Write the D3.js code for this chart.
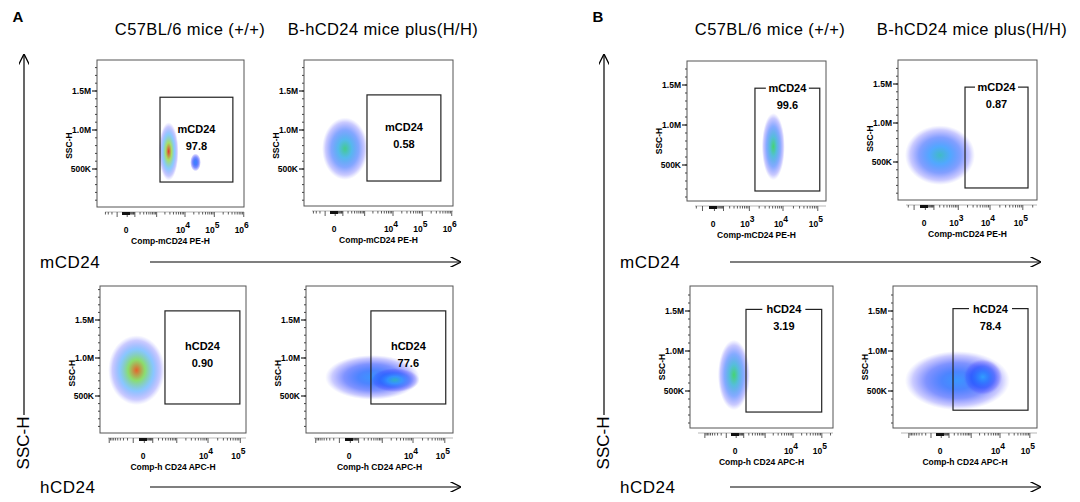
<!DOCTYPE html>
<html><head><meta charset="utf-8">
<script src="https://cdn.jsdelivr.net/npm/d3@7/dist/d3.min.js"></script>
<style>body{margin:0;background:#fff}text{font-family:Arial,"Liberation Sans",sans-serif}</style>
</head><body><svg id="c" width="1080" height="502"></svg>
<script>
// ---- data ----
const panelIds = ["A1","A2","A3","A4","B1","B2","B3","B4"];
const markers = ["mCD24","mCD24","hCD24","hCD24","mCD24","mCD24","hCD24","hCD24"];
const xTitles = ["Comp-mCD24 PE-H","Comp-mCD24 PE-H","Comp-h CD24 APC-H","Comp-h CD24 APC-H",
                 "Comp-mCD24 PE-H","Comp-mCD24 PE-H","Comp-h CD24 APC-H","Comp-h CD24 APC-H"];
const gateValues = ["97.8","0.58","0.90","77.6","99.6","0.87","3.19","78.4"];
// gate bounds [xLo, xHi, yLo, yHi] in data units
const gateX0 = [1330,1220,376,386,1490,1660,140,172];
const gateX1 = [427000,427000,97000,107000,114000,144000,99000,87000];
const gateY0 = [333e3,346e3,395e3,395e3,175e3,167e3,237e3,260e3];
const gateY1 = [1.42e6,1.45e6,1.62e6,1.62e6,1.46e6,1.46e6,1.52e6,1.53e6];
// decade tick labels per panel (exponents)
const decadeTicks = [[4,5,6],[4,5,6],[4,5],[4,5],[3,4,5],[3,4,5],[4,5],[4,5]];
const yTickValues = [500e3,1.0e6,1.5e6];
const yTickLabels = ["500K","1.0M","1.5M"];
// cell populations: panel index, x range, y range (data units), peak density 0..1
const popPanel = [0,0,1,2,3,3,4,5,6,7,7];
const popX0 = [1200,15000,-155,-1090,-460,350,2400,-280,-290,-1390,500];
const popX1 = [6000,35000,1330,376,16300,16300,11300,3450,230,21600,12000];
const popY0 = [350e3,470e3,360e3,380e3,450e3,550e3,310e3,205e3,260e3,260e3,450e3];
const popY1 = [1.1e6,700e3,1.16e6,1.3e6,1.04e6,870e3,1.15e6,970e3,1.14e6,1.0e6,900e3];
const popPeak = [1.0,0.25,0.55,0.95,0.3,0.45,0.6,0.45,0.6,0.3,0.35];

// ---- layout ----
const layout = [
 {l:97,r:244,t:60,b:207,z:126,d4:185,y5:169,y10:130},
 {l:304,r:453,t:60,b:206,z:334,d4:393,y5:169,y10:130},
 {l:100,r:246,t:286,b:433,z:143,d4:208,y5:396,y10:358},
 {l:306,r:453,t:286,b:433,z:349,d4:413,y5:396,y10:358},
 {l:687,r:826,t:61,b:201,z:713,d4:783,y5:165,y10:125},
 {l:898,r:1037,t:60,b:200,z:924,d4:990,y5:162,y10:123},
 {l:690,r:833,t:286,b:428,z:735,d4:793,y5:391,y10:351},
 {l:893,r:1037,t:286,b:428,z:940,d4:1000,y5:391,y10:351}
];
const svg = d3.select("#c");
const defs = svg.append("defs");
const ramp = d3.scaleLinear().domain([0,0.35,0.6,0.8,1]).range(["#1010ff","#2aa0ff","#30d060","#f0e020","#e02010"]);

panelIds.forEach((id,i)=>{
  const L = layout[i];
  const x = d3.scaleSymlog().constant(100).domain([0,1e4]).range([L.z,L.d4]);
  const y = d3.scaleLinear().domain([500e3,1e6]).range([L.y5,L.y10]);
  const g = svg.append("g");
  g.append("rect").attr("x",L.l).attr("y",L.t).attr("width",L.r-L.l).attr("height",L.b-L.t)
   .attr("fill","#fff").attr("stroke","#555").attr("stroke-width",1);
  popPanel.forEach((p,k)=>{
    if(p!==i) return;
    const gid="pg"+k, pk=popPeak[k];
    const gr=defs.append("radialGradient").attr("id",gid);
    const stops=[[0,ramp(pk),0.9],[0.3,ramp(pk*0.7),0.8],[0.6,ramp(pk*0.35),0.55],[0.85,"#3030ff",0.25],[1,"#6060ff",0]];
    stops.forEach(s=>gr.append("stop").attr("offset",s[0]).attr("stop-color",s[1]).attr("stop-opacity",s[2]));
    const x0=x(popX0[k]),x1=x(popX1[k]),y0=y(popY0[k]),y1=y(popY1[k]);
    g.append("ellipse").attr("cx",(x0+x1)/2).attr("cy",(y0+y1)/2)
     .attr("rx",(x1-x0)/2).attr("ry",Math.abs(y0-y1)/2).attr("fill",`url(#${gid})`);
  });
  const gx0=x(gateX0[i]),gx1=x(gateX1[i]),gy0=y(gateY1[i]),gy1=y(gateY0[i]);
  g.append("rect").attr("x",gx0).attr("y",gy0).attr("width",gx1-gx0).attr("height",gy1-gy0)
   .attr("fill","none").attr("stroke","#222").attr("stroke-width",1.2);
  const isB = id[0]==="B";
  const cx=(gx0+gx1)/2;
  if(isB){
    const w=markers[i].length*7.4+6;
    g.append("rect").attr("x",cx-w/2).attr("y",gy0-6).attr("width",w).attr("height",12).attr("fill","#fff");
    g.append("text").attr("x",cx).attr("y",gy0+4).attr("text-anchor","middle").attr("font-size",11).attr("font-weight","bold").text(markers[i]);
    g.append("text").attr("x",cx).attr("y",gy0+21).attr("text-anchor","middle").attr("font-size",11).attr("font-weight","bold").text(gateValues[i]);
  } else {
    const my=gy0+(gy1-gy0)*0.42;
    g.append("text").attr("x",cx).attr("y",my).attr("text-anchor","middle").attr("font-size",11).attr("font-weight","bold").text(markers[i]);
    g.append("text").attr("x",cx).attr("y",my+17).attr("text-anchor","middle").attr("font-size",11).attr("font-weight","bold").text(gateValues[i]);
  }
  const yMinor=d3.range(100e3,2.0e6,100e3).filter(v=>y(v)>L.t+2&&y(v)<L.b-2);
  g.selectAll(null).data(yMinor).enter().append("line").attr("x1",L.l-2).attr("x2",L.l).attr("y1",d=>y(d)).attr("y2",d=>y(d)).attr("stroke","#444");
  yTickValues.forEach((v,k)=>{
    g.append("line").attr("x1",L.l-5).attr("x2",L.l).attr("y1",y(v)).attr("y2",y(v)).attr("stroke","#222").attr("stroke-width",1.2);
    g.append("text").attr("x",L.l-6).attr("y",y(v)+3).attr("text-anchor","end").attr("font-size",8.5).attr("font-weight","bold").text(yTickLabels[k]);
  });
  g.append("text").attr("transform",`translate(${L.l-25},${y(800e3)}) rotate(-90)`).attr("text-anchor","middle").attr("font-size",8.5).attr("font-weight","bold").text("SSC-H");
  const xmax=x.invert(L.r), xmin=x.invert(L.l);
  const ax=L.b+5;
  g.append("line").attr("x1",L.l+8).attr("x2",L.r).attr("y1",ax).attr("y2",ax).attr("stroke","#888").attr("stroke-width",0.6);
  const minors=[];
  for(let e=1;e<=6;e++) for(let m=1;m<10;m++){const v=m*Math.pow(10,e); if(v<xmax) {minors.push(v); if(e>=2 && -v>xmin) minors.push(-v);} }
  g.selectAll(null).data(minors.filter(v=>x(v)>L.l+8&&x(v)<L.r)).enter().append("line")
   .attr("x1",d=>x(d)).attr("x2",d=>x(d)).attr("y1",ax).attr("y2",d=>{const l=Math.log10(Math.abs(d));return Math.abs(l-Math.round(l))<1e-6?ax+5:ax+2.5;})
   .attr("stroke","#333").attr("stroke-width",0.8);
  g.append("rect").attr("x",x(0)-4).attr("y",ax).attr("width",8).attr("height",3).attr("fill","#111");
  g.append("text").attr("x",x(0)).attr("y",ax+21).attr("text-anchor","middle").attr("font-size",8.5).attr("font-weight","bold").text("0");
  decadeTicks[i].forEach(e=>{
    const t=g.append("text").attr("x",x(Math.pow(10,e))-2).attr("y",ax+21).attr("text-anchor","middle").attr("font-size",8.5).attr("font-weight","bold");
    t.append("tspan").text("10");
    t.append("tspan").attr("dy",-5).text(e);
  });
  g.append("text").attr("x",(L.l+L.r)/2).attr("y",ax+32).attr("text-anchor","middle").attr("font-size",8.5).attr("font-weight","bold").text(xTitles[i]);
});

defs.append("marker").attr("id","ah").attr("viewBox","0 0 10 10").attr("refX",9).attr("refY",5)
 .attr("markerWidth",9).attr("markerHeight",9).attr("orient","auto-start-reverse")
 .append("path").attr("d","M0,0 L10,5 L0,10").attr("fill","none").attr("stroke","#000").attr("stroke-width",1.2);
const panelLetters=["A","B"], letterX=[18,598];
const colTitles=["C57BL/6 mice (+/+)","B-hCD24 mice plus(H/H)"];
const colX=[[190,383],[770,972]];
panelLetters.forEach((p,j)=>{
  const ox=j*580;
  svg.append("text").attr("x",letterX[j]).attr("y",22).attr("font-size",15).attr("font-weight","bold").attr("text-anchor","middle").text(p);
  colTitles.forEach((t,k)=>svg.append("text").attr("x",colX[j][k]).attr("y",35).attr("text-anchor","middle").attr("font-size",16.5).attr("letter-spacing",0.4).text(t));
  svg.append("text").attr("x",40+ox).attr("y",268).attr("font-size",17).attr("letter-spacing",0.5).text("mCD24");
  svg.append("line").attr("x1",150+ox).attr("x2",460+ox).attr("y1",262).attr("y2",262).attr("stroke","#000").attr("stroke-width",1.2).attr("marker-end","url(#ah)");
  svg.append("text").attr("x",40+ox).attr("y",493).attr("font-size",17).attr("letter-spacing",0.5).text("hCD24");
  svg.append("line").attr("x1",150+ox).attr("x2",460+ox).attr("y1",487).attr("y2",487).attr("stroke","#000").attr("stroke-width",1.2).attr("marker-end","url(#ah)");
  svg.append("line").attr("x1",24+ox).attr("x2",24+ox).attr("y1",415).attr("y2",55).attr("stroke","#000").attr("stroke-width",1.2).attr("marker-end","url(#ah)");
  svg.append("text").attr("transform",`translate(${29+ox},443) rotate(-90)`).attr("text-anchor","middle").attr("font-size",17).text("SSC-H");
});
</script></body></html>
